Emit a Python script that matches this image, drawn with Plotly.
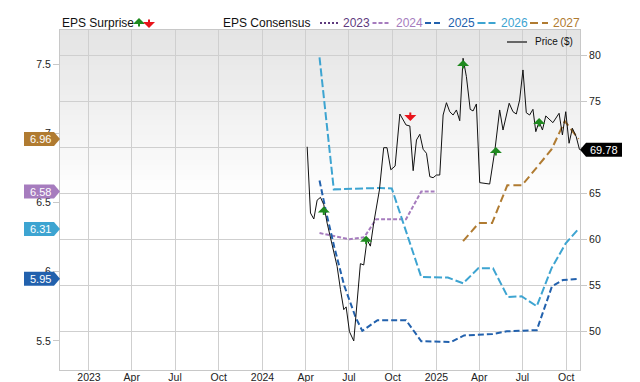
import plotly.graph_objects as go

# ---------------- data ----------------
price_dates = ["2024-04-04","2024-04-11","2024-04-18","2024-04-25","2024-05-02","2024-05-09","2024-05-16","2024-05-23",
               "2024-05-30","2024-06-06","2024-06-13","2024-06-20","2024-06-25","2024-07-02","2024-07-11","2024-07-18",
               "2024-07-25","2024-08-01","2024-08-08","2024-08-15","2024-08-22","2024-09-03","2024-09-12","2024-09-19",
               "2024-09-27","2024-10-06","2024-10-16","2024-10-29","2024-11-06","2024-11-13","2024-11-20","2024-11-27",
               "2024-12-04","2024-12-11","2024-12-18","2024-12-25","2025-01-01","2025-01-08","2025-01-15","2025-01-22",
               "2025-01-29","2025-02-05","2025-02-12","2025-02-19","2025-02-26","2025-03-05","2025-03-13","2025-03-19",
               "2025-03-26","2025-04-02","2025-04-09","2025-04-16","2025-04-23","2025-05-04","2025-05-14","2025-05-21",
               "2025-06-03","2025-06-11","2025-06-18","2025-06-25","2025-07-02","2025-07-09","2025-07-16","2025-07-23",
               "2025-07-29","2025-08-05","2025-08-12","2025-08-19","2025-08-26","2025-09-03","2025-09-16","2025-09-23",
               "2025-09-30","2025-10-07","2025-10-14","2025-10-22","2025-10-29"]
price_values = [70.1, 62.9, 62.25, 64.3, 64.6, 63.8, 61.8, 60.2,
                58.6, 57.1, 54.6, 52.4, 52.7, 50.0, 49.0, 53.45,
                57.4, 57.25, 60.0, 59.3, 61.8, 65.4, 70.0, 70.0,
                67.6, 68.0, 73.66, 72.47, 72.36, 67.5, 70.84, 71.46,
                69.83, 69.39, 66.85, 66.74, 67.03, 67.03, 73.55, 74.89,
                73.91, 73.55, 74.1, 72.93, 79.72, 77.72, 74.17, 73.99,
                74.75, 66.2, 66.15, 66.1, 66.05, 69.75, 74.1, 71.92,
                74.83, 73.91, 73.66, 75.18, 78.45, 73.8, 73.55, 74.17,
                71.74, 72.83, 71.92, 73.45, 73.09, 72.72, 73.74, 71.38,
                73.91, 70.48, 72.11, 71.2, 69.78]

eps_2023_dates = []
eps_2023_values = []

eps_2024_dates = ["2024-04-30","2024-05-31","2024-07-02","2024-08-02","2024-08-27","2024-09-30","2024-10-29","2024-11-30","2024-12-28"]
eps_2024_values = [6.28, 6.26, 6.235, 6.25, 6.38, 6.38, 6.38, 6.58, 6.58]

eps_2025_dates = ["2024-04-30","2024-05-14","2024-05-31","2024-06-21","2024-07-15","2024-07-29","2024-08-30","2024-10-29",
                  "2024-11-30","2025-02-01","2025-02-28","2025-04-29","2025-05-29","2025-07-31","2025-09-01","2025-09-24","2025-10-27"]
eps_2025_values = [6.66, 6.43, 6.18, 5.90, 5.67, 5.573, 5.65, 5.65,
                   5.498, 5.493, 5.54, 5.55, 5.57, 5.578, 5.895, 5.94, 5.95]

eps_2026_dates = ["2024-04-30","2024-05-30","2024-08-05","2024-09-04","2024-09-29","2024-11-30","2025-01-25","2025-02-26",
                  "2025-03-30","2025-04-30","2025-05-31","2025-06-29","2025-07-31","2025-08-31","2025-09-30","2025-10-27"]
eps_2026_values = [7.55, 6.596, 6.603, 6.606, 6.603, 5.962, 5.958, 5.917,
                   6.025, 6.025, 5.818, 5.823, 5.751, 6.025, 6.206, 6.31]

eps_2027_dates = ["2025-02-26","2025-03-31","2025-04-28","2025-05-30","2025-06-30","2025-07-29","2025-08-31","2025-09-28","2025-10-27"]
eps_2027_values = [6.222, 6.352, 6.352, 6.625, 6.625, 6.747, 6.884, 7.089, 6.96]

surprise_up_dates = ["2024-05-09","2024-08-06","2025-02-26","2025-05-06","2025-08-05"]
surprise_up_values = [63.62, 60.43, 79.53, 70.08, 73.23]
surprise_down_dates = ["2024-11-07"]
surprise_down_values = [72.9]

x_tick_dates = ["2023-01-01","2023-04-01","2023-07-01","2023-10-01","2024-01-01","2024-04-01","2024-07-01","2024-10-01",
                "2025-01-01","2025-04-01","2025-07-01","2025-10-01"]
x_tick_labels = ["2023","Apr","Jul","Oct","2024","Apr","Jul","Oct","2025","Apr","Jul","Oct"]
eps_ticks = [5.5, 6, 6.5, 7, 7.5]
price_ticks = [50, 55, 60, 65, 70, 75, 80]

series_names = ["2023", "2024", "2025", "2026", "2027"]
series_colors = ["#5e3a7e", "#a67cbe", "#2261ad", "#3da4d1", "#b07b31"]
series_dash = ["2px,2px", "4px,2px", "6px,3px", "8px,3px", "8px,4px"]
series_dates = [eps_2023_dates, eps_2024_dates, eps_2025_dates, eps_2026_dates, eps_2027_dates]
series_values = [eps_2023_values, eps_2024_values, eps_2025_values, eps_2026_values, eps_2027_values]

# ---------------- layout helpers ----------------
W, H = 640, 382
L, R, T, B = 60, 60, 30, 12
PW, PH = W - L - R, H - T - B
FONT = "Liberation Sans, Arial, sans-serif"


def fx(px):
    return (px - L) / PW


def fy(py):
    return (H - B - py) / PH


fig = go.Figure()

for name, col, dash, d, v in zip(series_names, series_colors, series_dash, series_dates, series_values):
    fig.add_trace(go.Scatter(x=d, y=v, mode="lines", name=name, yaxis="y",
                             line=dict(color=col, width=2, dash=dash), hoverinfo="skip"))

fig.add_trace(go.Scatter(x=price_dates, y=price_values, mode="lines", name="Price ($)", yaxis="y2",
                         line=dict(color="#111111", width=1), hoverinfo="skip"))

shapes = []
annotations = []

# background gradient (top grey fading to white)
N = 34
top_px, bot_px = 30, 200
for i in range(N):
    y0 = top_px + (bot_px - top_px) * i / N
    y1 = top_px + (bot_px - top_px) * (i + 1) / N
    g = int(round(228 + (255 - 228) * i / (N - 1)))
    shapes.append(dict(type="rect", xref="paper", yref="paper", x0=0, x1=1, y0=fy(y1), y1=fy(y0),
                       fillcolor=f"rgb({g},{g},{g})", line=dict(width=0), layer="below"))

# surprise arrows
for d, v in zip(surprise_up_dates, surprise_up_values):
    annotations.append(dict(x=d, y=v, xref="x", yref="y2", ax=0, ay=10, text="", showarrow=True,
                            arrowhead=1, arrowsize=1, arrowwidth=2, arrowcolor="#1f8a1f", standoff=0))
for d, v in zip(surprise_down_dates, surprise_down_values):
    annotations.append(dict(x=d, y=v, xref="x", yref="y2", ax=0, ay=-10, text="", showarrow=True,
                            arrowhead=1, arrowsize=1, arrowwidth=2, arrowcolor="#e8141b", standoff=0))

# top legend
ly = fy(23)
annotations.append(dict(x=fx(60), y=ly, xref="paper", yref="paper", xanchor="left", yanchor="middle",
                        text="EPS Surprise", showarrow=False, font=dict(family=FONT, size=12, color="#111")))
annotations.append(dict(x=fx(139), y=fy(18), xref="paper", yref="paper", ax=0, ay=10, text="", showarrow=True,
                        arrowhead=1, arrowsize=1, arrowwidth=2, arrowcolor="#1f8a1f", standoff=0))
annotations.append(dict(x=fx(149), y=fy(28), xref="paper", yref="paper", ax=0, ay=-10, text="", showarrow=True,
                        arrowhead=1, arrowsize=1, arrowwidth=2, arrowcolor="#e8141b", standoff=0))
annotations.append(dict(x=fx(221), y=ly, xref="paper", yref="paper", xanchor="left", yanchor="middle",
                        text="EPS Consensus", showarrow=False, font=dict(family=FONT, size=12, color="#111")))
x0 = 320
for name, col, dash in zip(series_names, series_colors, series_dash):
    shapes.append(dict(type="line", xref="paper", yref="paper", x0=fx(x0), x1=fx(x0 + 18), y0=ly, y1=ly,
                       line=dict(color=col, width=2, dash=dash)))
    annotations.append(dict(x=fx(x0 + 21), y=ly, xref="paper", yref="paper", xanchor="left", yanchor="middle",
                            text=name, showarrow=False, font=dict(family=FONT, size=12, color=col)))
    x0 += 52.5

# price legend inside plot
shapes.append(dict(type="line", xref="paper", yref="paper", x0=fx(507), x1=fx(527), y0=fy(42), y1=fy(42),
                   line=dict(color="#666666", width=2)))
annotations.append(dict(x=fx(533), y=fy(42), xref="paper", yref="paper", xanchor="left", yanchor="middle",
                        text="Price ($)", showarrow=False, font=dict(family=FONT, size=10, color="#111")))

# left value badges (last EPS value of each series)
for name, col, v in zip(series_names, series_colors, series_values):
    if not v:
        continue
    val = v[-1]
    shapes.append(dict(type="path", xref="paper", yref="y", xsizemode="pixel", ysizemode="pixel",
                       xanchor=0, yanchor=val, path="M -36,-7 L -6,-7 L 0,0 L -6,7 L -36,7 Z",
                       fillcolor=col, line=dict(width=0), layer="above"))
    annotations.append(dict(x=0, y=val, xref="paper", yref="y", xanchor="center", yanchor="middle",
                            xshift=-20, text=f"{val:.2f}", showarrow=False,
                            font=dict(family=FONT, size=11, color="white")))

# right price badge
pv = price_values[-1]
shapes.append(dict(type="path", xref="paper", yref="y2", xsizemode="pixel", ysizemode="pixel",
                   xanchor=1, yanchor=pv, path="M 0,0 L 6,-7 L 42,-7 L 42,7 L 6,7 Z",
                   fillcolor="#000000", line=dict(width=0), layer="above"))
annotations.append(dict(x=1, y=pv, xref="paper", yref="y2", xanchor="center", yanchor="middle",
                        xshift=24, text=f"{pv:.2f}", showarrow=False,
                        font=dict(family=FONT, size=11, color="white")))

tickfont = dict(family=FONT, size=10.5, color="#222")
fig.update_layout(
    width=W, height=H, margin=dict(l=L, r=R, t=T, b=B, autoexpand=False),
    paper_bgcolor="white", plot_bgcolor="rgba(0,0,0,0)", showlegend=False,
    font=dict(family=FONT),
    xaxis=dict(type="date", range=["2022-11-01", "2025-10-30"], tickvals=x_tick_dates, ticktext=x_tick_labels,
               showgrid=True, gridcolor="#cfcfcf", gridwidth=1, showline=True, linecolor="#c8c8c8", mirror=True,
               ticks="", ticklabelstandoff=-3, tickfont=tickfont, zeroline=False, automargin=False),
    yaxis=dict(range=[5.29, 7.748], tickvals=eps_ticks, ticktext=[f"{t:g}" for t in eps_ticks],
               showgrid=False, zeroline=False, showline=True, linecolor="#c8c8c8", mirror=True,
               ticks="outside", ticklen=6, tickcolor="#c8c8c8", tickfont=tickfont, automargin=False),
    yaxis2=dict(range=[45.84, 82.79], tickvals=price_ticks, overlaying="y", side="right",
                showgrid=True, gridcolor="#cfcfcf", gridwidth=1, zeroline=False, showline=False,
                ticks="outside", ticklen=6, tickcolor="#c8c8c8", tickfont=tickfont, automargin=False),
    shapes=shapes, annotations=annotations,
)

fig.write_html("out.html", config={"displayModeBar": False},
               post_script="document.body.style.margin='0';document.body.style.padding='0';")
